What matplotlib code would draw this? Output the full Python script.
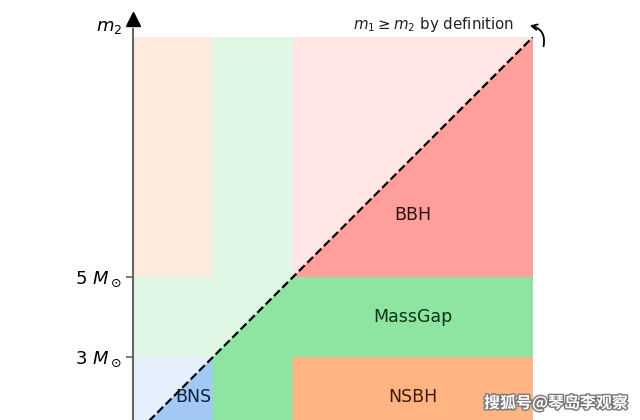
import matplotlib
matplotlib.use("Agg")
import matplotlib.pyplot as plt
import matplotlib.patheffects as pe
from matplotlib.patches import Rectangle, Polygon

# mass range (solar masses) and class boundaries
m_min, m_max = 1, 11
ns_max, gap_max = 3, 5

# class regions as (m1_lo, m1_hi, m2_lo, m2_hi), symmetric about m1 = m2
regions = {
    "BNS": [(1, 3, 1, 3)],
    "NSBH": [(5, 11, 1, 3), (1, 3, 5, 11)],
    "MassGap": [(3, 5, 1, 11), (5, 11, 3, 5), (1, 3, 3, 5)],
    "BBH": [(5, 11, 5, 11)],
}
colours = {"BNS": "#a1c9f4", "NSBH": "#ffb482", "MassGap": "#8de5a1", "BBH": "#ff9f9b"}
text_colours = {"BNS": "#0d1f3a", "NSBH": "#3a1a08", "MassGap": "#0c3318", "BBH": "#2a1010"}
label_pos = {"BNS": (2.5, 2.0), "NSBH": (8, 2.0), "MassGap": (8, 4.0), "BBH": (8, 6.55)}

y_ticks = [ns_max, gap_max]
y_tick_labels = [r"$3\ M_\odot$", r"$5\ M_\odot$"]

fig = plt.figure(figsize=(6.4, 4.2), dpi=100)
ax = fig.add_axes([133 / 640, -17 / 420, 400 / 640, 400 / 420])
ax.set_xlim(m_min, m_max)
ax.set_ylim(m_min, m_max)

# the half of the plane with m1 >= m2
lower = Polygon([(m_min, m_min), (m_max, m_min), (m_max, m_max)], closed=True,
                transform=ax.transData, facecolor="none", edgecolor="none")
ax.add_patch(lower)

for name, rects in regions.items():
    for x0, x1, y0, y1 in rects:
        ax.add_patch(Rectangle((x0, y0), x1 - x0, y1 - y0, facecolor=colours[name],
                               alpha=0.27, edgecolor="none", zorder=1))
        dark = Rectangle((x0, y0), x1 - x0, y1 - y0, facecolor=colours[name],
                         edgecolor="none", zorder=2)
        ax.add_patch(dark)
        dark.set_clip_path(lower)
    lx, ly = label_pos[name]
    ax.text(lx, ly, name, ha="center", va="center", fontsize=12.5,
            color=text_colours[name], zorder=4)

ax.plot([m_min, m_max], [m_min, m_max], color="black", linestyle="--", lw=1.6, zorder=3)

# y axis with an arrow
for side in ["top", "right", "bottom", "left"]:
    ax.spines[side].set_visible(False)
ax.plot([0, 0], [0, 1.02], transform=ax.transAxes, color="#666666", lw=1.5,
        clip_on=False, zorder=5)
ax.plot([0], [1.045], transform=ax.transAxes, marker="^", color="black",
        markersize=10, clip_on=False, zorder=6)
ax.set_xticks([])
ax.set_yticks(y_ticks)
ax.set_yticklabels(y_tick_labels, fontsize=13)
ax.tick_params(axis="y", length=5, width=1.2, color="#666666")
fig.text(109 / 640, 1 - 27 / 420, r"$m_2$", fontsize=13, ha="center", va="center")

# note on the diagonal
fig.text(514 / 640, 1 - 25 / 420, r"$m_1 \geq m_2$ by definition", fontsize=10.8,
         ha="right", va="center", color="#222222")
ax.annotate("", xy=(10.85, 11.3), xytext=(11.25, 10.7), xycoords="data",
            arrowprops=dict(arrowstyle="->", color="black", lw=1.3,
                            connectionstyle="arc3,rad=0.55"),
            annotation_clip=False)

fig.text(556 / 640, 1 - 403 / 420, "搜狐号@琴岛李观察", fontsize=11.5, fontweight="bold",
         family=["Noto Sans CJK SC", "DejaVu Sans"], color="white", ha="center", va="center",
         path_effects=[pe.withStroke(linewidth=2, foreground="#777777")])

fig.savefig("out.png", dpi=100)
